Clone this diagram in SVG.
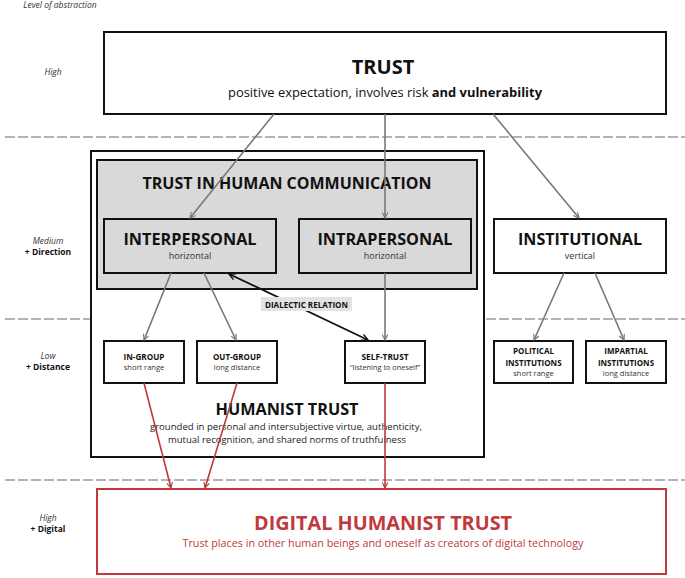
<svg xmlns="http://www.w3.org/2000/svg" width="685" height="578" viewBox="0 0 685 578">
<style>
text{font-family:"Open Sans","Liberation Sans",sans-serif;text-anchor:middle;fill:#111}
.lvl{font-size:8.5px;font-style:italic;fill:#333}
.lvb{font-size:8.5px;font-weight:bold;fill:#111}
.box{fill:#fff;stroke:#111;stroke-width:2}
.gbox{fill:#d9d9d9;stroke:#111;stroke-width:2}
.h1{font-size:16px;font-weight:bold}
.sub{font-size:9px;fill:#333}
.sm{font-size:8px;font-weight:bold}
.smsub{font-size:7.5px;fill:#333}
.dash{stroke:#b3b3b3;stroke-width:2;stroke-dasharray:10 3;fill:none}
.ga{stroke:#777;stroke-width:1.6;fill:none;marker-end:url(#ag)}
.ra{stroke:#c0393b;stroke-width:1.6;fill:none;marker-end:url(#ar)}
</style>
<defs>
<marker id="ag" viewBox="0 0 10 10" refX="9" refY="5" markerWidth="7" markerHeight="7" orient="auto" markerUnits="userSpaceOnUse"><path d="M1,1 L9,5 L1,9" fill="none" stroke="#777" stroke-width="1.6"/></marker>
<marker id="ar" viewBox="0 0 10 10" refX="9" refY="5" markerWidth="7" markerHeight="7" orient="auto" markerUnits="userSpaceOnUse"><path d="M1,1 L9,5 L1,9" fill="none" stroke="#c0393b" stroke-width="1.6"/></marker>
<marker id="ab" viewBox="0 0 10 10" refX="9" refY="5" markerWidth="8" markerHeight="8" orient="auto-start-reverse" markerUnits="userSpaceOnUse"><path d="M1,1 L9,5 L1,9" fill="none" stroke="#111" stroke-width="1.8"/></marker>
</defs>
<rect width="685" height="578" fill="#fff"/>

<g id="levels">
<text class="lvl" x="60" y="8">Level of abstraction</text>
<text class="lvl" x="53" y="75">High</text>
<text class="lvl" x="48" y="244">Medium</text>
<text class="lvb" x="48" y="255">+ Direction</text>
<text class="lvl" x="48" y="359">Low</text>
<text class="lvb" x="48" y="370">+ Distance</text>
<text class="lvl" x="48" y="521">High</text>
<text class="lvb" x="48" y="532">+ Digital</text>
</g>

<g id="dividers">
<line class="dash" x1="5" y1="137" x2="685" y2="137"/>
<line class="dash" x1="5" y1="319" x2="685" y2="319"/>
<line class="dash" x1="5" y1="480" x2="685" y2="480"/>
</g>

<g id="trust">
<rect class="box" x="104" y="32" width="562" height="82"/>
<text x="383" y="74" style="font-size:20px;font-weight:bold">TRUST</text>
<text x="385" y="97" style="font-size:12.5px" textLength="314" lengthAdjust="spacingAndGlyphs">positive expectation, involves risk <tspan font-weight="bold">and vulnerability</tspan></text>
</g>

<g id="humanist">
<rect class="box" x="91" y="151" width="393" height="306"/>
<text x="287" y="415" class="h1" textLength="143" lengthAdjust="spacingAndGlyphs">HUMANIST TRUST</text>
<text x="286" y="430" style="font-size:9.5px;fill:#222" textLength="272" lengthAdjust="spacingAndGlyphs">grounded in personal and intersubjective virtue, authenticity,</text>
<text x="287" y="443" style="font-size:9.5px;fill:#222" textLength="238" lengthAdjust="spacingAndGlyphs">mutual recognition, and shared norms of truthfulness</text>
</g>

<g id="communication">
<rect class="gbox" x="97" y="160" width="380" height="129"/>
<text x="287" y="189" style="font-size:16px;font-weight:bold" textLength="289" lengthAdjust="spacingAndGlyphs">TRUST IN HUMAN COMMUNICATION</text>
</g>

<g id="interpersonal">
<rect class="gbox" x="104" y="219" width="172" height="54"/>
<text x="190" y="245" class="h1" textLength="133" lengthAdjust="spacingAndGlyphs">INTERPERSONAL</text>
<text x="190" y="259" class="sub">horizontal</text>
</g>

<g id="intrapersonal">
<rect class="gbox" x="299" y="219" width="172" height="54"/>
<text x="385" y="245" class="h1" textLength="135" lengthAdjust="spacingAndGlyphs">INTRAPERSONAL</text>
<text x="385" y="259" class="sub">horizontal</text>
</g>

<g id="institutional">
<rect class="box" x="494" y="219" width="172" height="54"/>
<text x="580" y="245" class="h1" textLength="124" lengthAdjust="spacingAndGlyphs">INSTITUTIONAL</text>
<text x="580" y="259" class="sub">vertical</text>
</g>

<g id="ingroup">
<rect class="box" x="104" y="341" width="80" height="42"/>
<text x="144" y="360" class="sm" textLength="41" lengthAdjust="spacingAndGlyphs">IN-GROUP</text>
<text x="144" y="370" class="smsub">short range</text>
</g>

<g id="outgroup">
<rect class="box" x="197" y="341" width="80" height="42"/>
<text x="237" y="360" class="sm" textLength="48" lengthAdjust="spacingAndGlyphs">OUT-GROUP</text>
<text x="237" y="370" class="smsub">long distance</text>
</g>

<g id="selftrust">
<rect class="box" x="345" y="341" width="80" height="42"/>
<text x="385" y="360" class="sm" textLength="47" lengthAdjust="spacingAndGlyphs">SELF-TRUST</text>
<text x="385" y="369.5" class="smsub" textLength="70" lengthAdjust="spacingAndGlyphs">“listening to oneself”</text>
</g>

<g id="political">
<rect class="box" x="494" y="341" width="79" height="42"/>
<text x="533.5" y="354" class="sm">POLITICAL</text>
<text x="533.5" y="366" class="sm">INSTITUTIONS</text>
<text x="533.5" y="376" class="smsub">short range</text>
</g>

<g id="impartial">
<rect class="box" x="586" y="341" width="80" height="42"/>
<text x="626" y="354" class="sm">IMPARTIAL</text>
<text x="626" y="366" class="sm">INSTITUTIONS</text>
<text x="626" y="376" class="smsub">long distance</text>
</g>

<g id="digital">
<rect x="97" y="489" width="569" height="85" fill="#fff" stroke="#c0393b" stroke-width="2"/>
<text x="383" y="530" style="font-size:19px;font-weight:bold;fill:#c0393b" textLength="258" lengthAdjust="spacingAndGlyphs">DIGITAL HUMANIST TRUST</text>
<text x="383" y="547" style="font-size:11px;fill:#c0393b" textLength="401" lengthAdjust="spacingAndGlyphs">Trust places in other human beings and oneself as creators of digital technology</text>
</g>

<g id="connectors">
<line class="ga" x1="274" y1="114" x2="190" y2="218"/>
<line class="ga" x1="385" y1="114" x2="385" y2="218"/>
<line class="ga" x1="493" y1="114" x2="579" y2="218"/>
<line class="ga" x1="171" y1="273" x2="144" y2="340"/>
<line class="ga" x1="204" y1="273" x2="236" y2="340"/>
<line class="ga" x1="385" y1="273" x2="385" y2="340"/>
<line class="ga" x1="564" y1="273" x2="534" y2="340"/>
<line class="ga" x1="595" y1="273" x2="624" y2="340"/>
<line x1="229" y1="274" x2="368" y2="340" stroke="#111" stroke-width="1.8" marker-start="url(#ab)" marker-end="url(#ab)"/>
<line class="ra" x1="144" y1="383" x2="171" y2="488"/>
<line class="ra" x1="237" y1="383" x2="205" y2="488"/>
<line class="ra" x1="385" y1="383" x2="385" y2="488"/>
<rect x="261" y="297" width="91" height="14" fill="#e3e3e3"/>
<text x="306.5" y="307.5" style="font-size:8px;font-weight:bold" textLength="83" lengthAdjust="spacingAndGlyphs">DIALECTIC RELATION</text>
</g>
</svg>
